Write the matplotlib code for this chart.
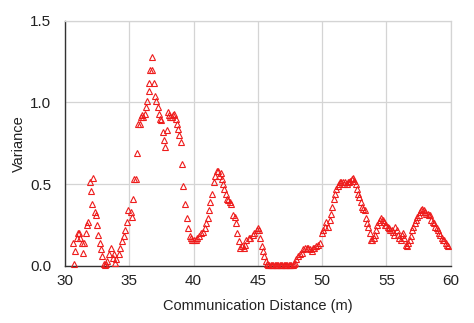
import matplotlib
matplotlib.use('Agg')
import matplotlib.pyplot as plt

plt.rcParams['font.family'] = ['Liberation Sans', 'DejaVu Sans']

# communication distance (m) and variance
dist = [30.6, 30.7, 30.8, 30.9, 31.0, 31.1, 31.2, 31.3, 31.4, 31.5,
        31.6, 31.7, 31.8, 31.95, 32.0, 32.1, 32.2, 32.3, 32.4, 32.5,
        32.6, 32.7, 32.8, 32.9, 33.0, 33.1, 33.2, 33.3, 33.4, 33.6,
        33.7, 33.8, 33.9, 34.0, 34.2, 34.3, 34.4, 34.6, 34.7, 34.8,
        34.9, 35.1, 35.2, 35.3, 35.4, 35.5, 35.6, 35.7, 35.8, 35.9,
        36.0, 36.1, 36.2, 36.3, 36.4, 36.5, 36.55, 36.6, 36.75, 36.8,
        36.9, 37.0, 37.1, 37.2, 37.3, 37.4, 37.5, 37.6, 37.7, 37.8,
        37.9, 38.0, 38.1, 38.2, 38.3, 38.4, 38.5, 38.6, 38.7, 38.8,
        38.9, 39.0, 39.1, 39.2, 39.3, 39.5, 39.6, 39.7, 39.8, 39.9,
        40.05, 40.2, 40.3, 40.45, 40.6, 40.75, 40.9, 41.0, 41.1, 41.2,
        41.3, 41.45, 41.6, 41.7, 41.8, 41.9, 42.0, 42.1, 42.2, 42.3,
        42.4, 42.5, 42.6, 42.7, 42.8, 42.95, 43.05, 43.2, 43.3, 43.4,
        43.5, 43.6, 43.75, 43.9, 44.0, 44.1, 44.3, 44.4, 44.6, 44.7,
        44.9, 45.0, 45.1, 45.2, 45.3, 45.4, 45.5, 45.6, 45.7, 45.8,
        45.9, 46.0, 46.1, 46.2, 46.3, 46.4, 46.5, 46.6, 46.7, 46.8,
        46.9, 47.0, 47.1, 47.2, 47.3, 47.4, 47.5, 47.6, 47.7, 47.8,
        47.9, 48.0, 48.1, 48.25, 48.4, 48.5, 48.65, 48.8, 48.9, 49.05,
        49.2, 49.3, 49.4, 49.55, 49.7, 49.8, 49.95, 50.1, 50.2, 50.3,
        50.45, 50.6, 50.7, 50.8, 50.9, 51.0, 51.1, 51.2, 51.3, 51.4,
        51.5, 51.6, 51.7, 51.8, 51.9, 52.0, 52.1, 52.2, 52.3, 52.4,
        52.5, 52.6, 52.7, 52.8, 52.9, 53.0, 53.1, 53.2, 53.3, 53.4,
        53.5, 53.6, 53.7, 53.8, 53.9, 54.0, 54.1, 54.2, 54.3, 54.4,
        54.5, 54.6, 54.7, 54.8, 54.9, 55.0, 55.1, 55.2, 55.3, 55.4,
        55.5, 55.6, 55.7, 55.8, 55.9, 56.0, 56.1, 56.2, 56.3, 56.4,
        56.5, 56.6, 56.7, 56.8, 56.9, 57.0, 57.1, 57.2, 57.3, 57.4,
        57.5, 57.6, 57.7, 57.8, 57.9, 58.0, 58.1, 58.2, 58.3, 58.4,
        58.5, 58.6, 58.7, 58.8, 58.9, 59.0, 59.1, 59.2, 59.3, 59.4,
        59.5, 59.6, 59.7, 59.8]
variance = [0.14, 0.01, 0.09, 0.17, 0.20, 0.20, 0.17, 0.14, 0.08, 0.14,
            0.20, 0.25, 0.27, 0.51, 0.46, 0.38, 0.54, 0.33, 0.31, 0.25,
            0.19, 0.14, 0.10, 0.06, 0.01, 0.005, 0.01, 0.03, 0.07, 0.11,
            0.05, 0.07, 0.02, 0.04, 0.07, 0.11, 0.15, 0.18, 0.22, 0.27,
            0.34, 0.33, 0.30, 0.41, 0.53, 0.53, 0.69, 0.87, 0.87, 0.91,
            0.92, 0.91, 0.93, 0.97, 1.01, 1.07, 1.12, 1.20, 1.28, 1.20,
            1.12, 1.04, 1.01, 0.97, 0.93, 0.90, 0.89, 0.82, 0.77, 0.73,
            0.83, 0.94, 0.92, 0.91, 0.91, 0.92, 0.93, 0.90, 0.87, 0.84,
            0.80, 0.76, 0.62, 0.49, 0.38, 0.29, 0.23, 0.18, 0.17, 0.16,
            0.16, 0.16, 0.17, 0.18, 0.20, 0.21, 0.23, 0.26, 0.29, 0.34,
            0.39, 0.44, 0.51, 0.55, 0.58, 0.58, 0.55, 0.57, 0.53, 0.50,
            0.47, 0.44, 0.41, 0.40, 0.39, 0.38, 0.31, 0.30, 0.26, 0.20,
            0.15, 0.11, 0.12, 0.11, 0.13, 0.16, 0.17, 0.17, 0.19, 0.20,
            0.22, 0.23, 0.22, 0.17, 0.12, 0.09, 0.06, 0.03, 0.01, 0.005,
            0.005, 0.005, 0.005, 0.005, 0.005, 0.005, 0.005, 0.005, 0.005, 0.005,
            0.005, 0.005, 0.005, 0.005, 0.005, 0.005, 0.005, 0.005, 0.005, 0.01,
            0.02, 0.04, 0.06, 0.07, 0.08, 0.10, 0.11, 0.11, 0.11, 0.10,
            0.09, 0.11, 0.11, 0.12, 0.13, 0.14, 0.20, 0.22, 0.24, 0.27,
            0.24, 0.28, 0.32, 0.36, 0.41, 0.44, 0.47, 0.49, 0.50, 0.51,
            0.51, 0.51, 0.50, 0.51, 0.50, 0.51, 0.51, 0.52, 0.53, 0.54,
            0.52, 0.50, 0.47, 0.44, 0.42, 0.39, 0.36, 0.35, 0.34, 0.29,
            0.26, 0.24, 0.20, 0.16, 0.16, 0.17, 0.19, 0.22, 0.25, 0.27,
            0.28, 0.29, 0.28, 0.27, 0.25, 0.25, 0.24, 0.23, 0.22, 0.22,
            0.21, 0.19, 0.24, 0.22, 0.19, 0.17, 0.16, 0.19, 0.20, 0.17,
            0.13, 0.12, 0.14, 0.16, 0.18, 0.22, 0.24, 0.26, 0.28, 0.30,
            0.31, 0.33, 0.34, 0.35, 0.34, 0.33, 0.32, 0.32, 0.31, 0.31,
            0.28, 0.27, 0.26, 0.24, 0.23, 0.22, 0.20, 0.19, 0.17, 0.16,
            0.16, 0.14, 0.13, 0.12]

x_ticks = [30, 35, 40, 45, 50, 55, 60]
y_ticks = [0.0, 0.5, 1.0, 1.5]

fig = plt.figure(figsize=(4.74, 3.23), dpi=100)
ax = fig.add_axes([0.137, 0.177, 0.814, 0.759])

ax.plot(dist, variance, linestyle='none', marker='^', markersize=5,
        markerfacecolor='none', markeredgecolor='#ee1c1c', markeredgewidth=0.8,
        clip_on=False, zorder=3)

ax.set_xlim(30, 60)
ax.set_ylim(0, 1.5)
ax.set_xticks(x_ticks)
ax.set_yticks(y_ticks)
ax.set_yticklabels(['%.1f' % v for v in y_ticks])
ax.grid(True, color='#d4d4d4', linewidth=0.9)
ax.set_axisbelow(True)
ax.tick_params(length=0, labelsize=11, colors='#222222')
ax.tick_params(axis='y', pad=10)
ax.tick_params(axis='x', pad=6)

for side in ['top', 'right']:
    ax.spines[side].set_color('#d4d4d4')
    ax.spines[side].set_linewidth(0.9)
for side in ['left', 'bottom']:
    ax.spines[side].set_color('#333333')
    ax.spines[side].set_linewidth(1.0)

ax.set_xlabel('Communication Distance (m)', fontsize=10.5, color='#222222', labelpad=8)
ax.set_ylabel('Variance', fontsize=10.5, color='#222222', labelpad=3)

fig.savefig('out.png', dpi=100)
